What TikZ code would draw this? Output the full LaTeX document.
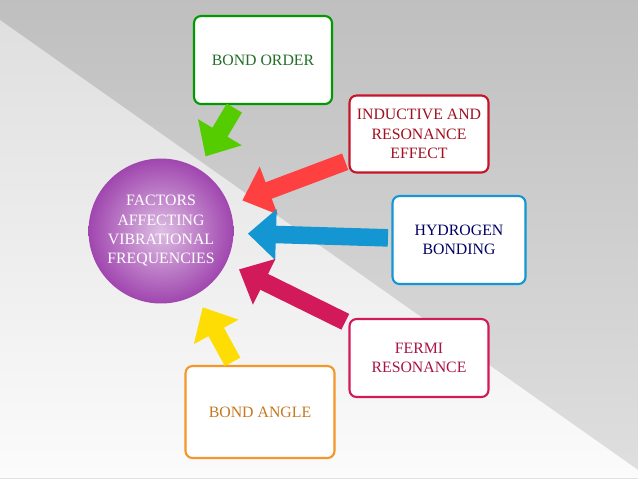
\documentclass[tikz,border=0pt]{standalone}
\usepackage{tikz}
\usetikzlibrary{arrows.meta,calc}
\usepackage{fontspec}
\setmainfont{Liberation Serif}
\definecolor{ordgreen}{RGB}{34,110,40}
\definecolor{indred}{RGB}{200,20,40}
\definecolor{hydblue}{RGB}{20,150,210}
\definecolor{ferpink}{RGB}{210,25,90}
\definecolor{angorange}{RGB}{245,150,40}
\definecolor{facpurple}{RGB}{160,70,175}
\tikzset{
    fbox/.style={draw, line width=1.2pt, rounded corners=4pt, fill=white,
        minimum width=#1, align=center, font=\small},
    blk/.style={line width=10pt, -{Triangle[length=16pt,width=28pt]}, shorten <=2pt, shorten >=8pt},
}
\begin{document}
\begin{tikzpicture}[x=0.02cm,y=-0.02cm]
    \useasboundingbox (0,0) rectangle (638,478);
    \clip (0,0) rectangle (638,478);
    \shade[top color=gray!50, bottom color=gray!25] (0,0) rectangle (638,478);
    \shade[top color=gray!25, bottom color=gray!3] (0,20) -- (638,470) -- (638,478) -- (0,478) -- cycle;
    % centre
    \node (fac) [circle, minimum size=2.9cm, inner color=facpurple!35, outer color=facpurple,
        text=white, align=center, font=\small] at (161,231) {FACTORS\\AFFECTING\\VIBRATIONAL\\FREQUENCIES};
    % boxes
    \node (bo) [fbox=2.76cm, draw=green!60!black, text=ordgreen, minimum height=1.76cm] at (263,60) {BOND ORDER};
    \node (ir) [fbox=2.78cm, draw=indred, text=indred!80!black, minimum height=1.54cm] at (419,134) {INDUCTIVE AND\\RESONANCE\\EFFECT};
    \node (hb) [fbox=2.66cm, draw=hydblue, text=blue!40!black, minimum height=1.76cm] at (459,240) {HYDROGEN\\BONDING};
    \node (fr) [fbox=2.78cm, draw=ferpink, text=ferpink!80!black, minimum height=1.56cm] at (419,358) {FERMI\\RESONANCE};
    \node (ba) [fbox=2.98cm, draw=angorange, text=angorange!80!black, minimum height=1.84cm] at (260,412) {BOND ANGLE};
    % arrows
    \draw[blk, green!45!lime!80!black] (bo) -- (fac);
    \draw[blk, red!75!white] (ir) -- (fac);
    \draw[blk, hydblue] (hb) -- (fac);
    \draw[blk, ferpink] (fr) -- (fac);
    \draw[blk, yellow!80!orange] (ba) -- (fac);
\end{tikzpicture}
\end{document}
